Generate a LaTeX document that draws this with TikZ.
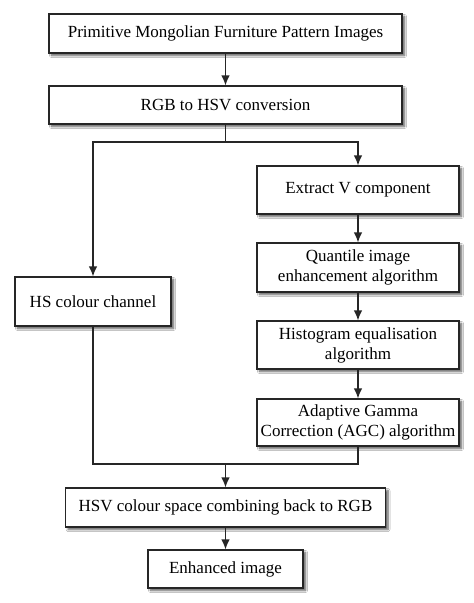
\documentclass[tikz,border=0pt]{standalone}
\usepackage{fontspec}
\setmainfont{Liberation Serif}
\usetikzlibrary{arrows.meta,shadows.blur}
\begin{document}
\begin{tikzpicture}[x=1pt,y=-1pt,
  box/.style={draw=black!85,line width=1.2pt,fill=white,inner sep=0pt,align=center,
    font=\fontsize{17}{20}\selectfont,
    blur shadow={shadow xshift=2.5pt,shadow yshift=-2.5pt,shadow blur steps=6,shadow blur radius=2pt,shadow blur extra rounding=0pt,shadow opacity=65}},
  conn/.style={draw=black!85,line width=1.2pt},
  arr/.style={conn,-{Latex[length=10pt,width=8.5pt]}}]
\useasboundingbox (0,0) rectangle (474,603);
\fill[white] (0,0) rectangle (474,603);
\node[box,minimum width=353pt,minimum height=39pt] (b1) at (225.5,33.5) {Primitive Mongolian Furniture Pattern Images};
\node[box,minimum width=353pt,minimum height=38pt] (b2) at (225.5,105) {RGB to HSV conversion};
\node[box,minimum width=202pt,minimum height=48pt] (b3) at (358,190) {Extract V component};
\node[box,minimum width=202pt,minimum height=49pt] (b4) at (358,267.5) {Quantile image\\enhancement algorithm};
\node[box,minimum width=202pt,minimum height=48pt] (b5) at (358,345) {Histogram equalisation\\algorithm};
\node[box,minimum width=202pt,minimum height=47pt] (b6) at (358,422.5) {Adaptive Gamma\\Correction (AGC) algorithm};
\node[box,minimum width=156pt,minimum height=49pt] (hs) at (93,301.5) {HS colour channel};
\node[box,minimum width=320pt,minimum height=39pt] (b7) at (225.5,507.5) {HSV colour space combining back to RGB};
\node[box,minimum width=155pt,minimum height=38pt] (b8) at (225.5,569) {Enhanced image};
\coordinate (split) at (225.5,142);
\coordinate (join) at (225.5,464);
\draw[arr] (b1.south) -- (b2.north);
\draw[conn] (b2.south) -- (split);
\draw[arr] (split) -| (hs.north);
\draw[arr] (split) -| (b3.north);
\draw[arr] (b3) -- (b4);
\draw[arr] (b4) -- (b5);
\draw[arr] (b5) -- (b6);
\draw[conn] (hs.south) |- (join);
\draw[conn] (b6.south) |- (join);
\draw[arr] (join) -- (b7.north);
\draw[arr] (b7) -- (b8);
\end{tikzpicture}
\end{document}
